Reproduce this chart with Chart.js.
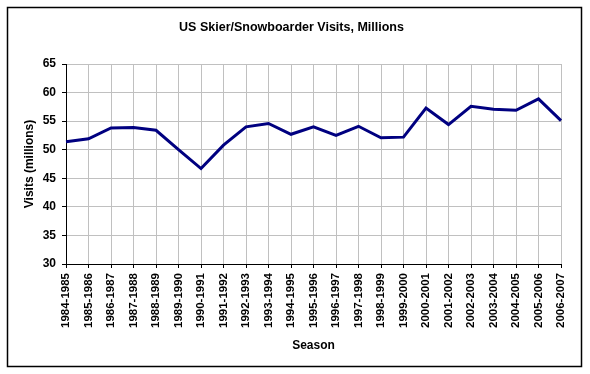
<!DOCTYPE html>
<html>
<head>
<meta charset="utf-8">
<script src="https://cdn.jsdelivr.net/npm/chart.js@4/dist/chart.umd.min.js"></script>
<style>
  html, body { margin: 0; padding: 0; background: #ffffff; }
  #wrap { width: 590px; height: 374px; position: relative; }
</style>
</head>
<body>
<div id="wrap"><canvas id="c" width="590" height="374"></canvas></div>
<script>
const chartTitle = "US Skier/Snowboarder Visits, Millions";
const xAxisTitle = "Season";
const yAxisTitle = "Visits (millions)";
const seasons = ["1984-1985","1985-1986","1986-1987","1987-1988","1988-1989","1989-1990","1990-1991","1991-1992","1992-1993","1993-1994","1994-1995","1995-1996","1996-1997","1997-1998","1998-1999","1999-2000","2000-2001","2001-2002","2002-2003","2003-2004","2004-2005","2005-2006","2006-2007"];
const visits = [51.4, 51.9, 53.8, 53.9, 53.4, 50.0, 46.7, 50.8, 54.0, 54.6, 52.7, 54.0, 52.5, 54.1, 52.1, 52.2, 57.3, 54.4, 57.6, 57.1, 56.9, 58.9, 55.1];
const yMin = 30, yMax = 65, yStep = 5;

Chart.defaults.font.family = "'Liberation Sans', Arial, sans-serif";
Chart.defaults.color = "#000000";

const framePlugin = {
  id: 'frame',
  afterDraw(chart) {
    const ctx = chart.ctx;
    ctx.save();
    ctx.strokeStyle = '#000000';
    ctx.lineWidth = 1.5;
    ctx.strokeRect(7.5, 7.5, 574, 359);
    ctx.restore();
  }
};

new Chart(document.getElementById('c'), {
  type: 'line',
  data: {
    labels: seasons,
    datasets: [{
      data: visits,
      borderColor: '#000080',
      borderWidth: 3,
      pointRadius: 0,
      pointHoverRadius: 0,
      tension: 0,
      fill: false
    }]
  },
  options: {
    responsive: false,
    animation: false,
    events: [],
    layout: { padding: { left: 22, right: 29, top: 0, bottom: 21 } },
    plugins: {
      legend: { display: false },
      tooltip: { enabled: false },
      title: {
        display: true,
        text: chartTitle,
        color: '#000000',
        font: { size: 12.5, weight: 'bold' },
        padding: { top: 20, bottom: 29 }
      }
    },
    scales: {
      x: {
        offset: false,
        afterFit(scale) { scale.height = 89; },
        border: { display: true, color: '#000000', width: 1 },
        grid: {
          display: true,
          color: '#c0c0c0',
          borderDash: [3, 3],
          lineWidth: 1,
          drawTicks: true,
          tickLength: 4,
          tickColor: '#000000',
          tickBorderDash: [],
          tickWidth: 1
        },
        ticks: {
          autoSkip: false,
          minRotation: 90,
          maxRotation: 90,
          padding: 5,
          color: '#000000',
          font: { size: 11.5, weight: 'bold' }
        },
        title: {
          display: true,
          text: xAxisTitle,
          color: '#000000',
          font: { size: 12, weight: 'bold' },
          padding: { top: 0, bottom: 0 }
        }
      },
      y: {
        min: yMin,
        max: yMax,
        afterFit(scale) { scale.width = 44; },
        border: { display: true, color: '#000000', width: 1 },
        grid: {
          display: true,
          color: '#c0c0c0',
          borderDash: [3, 3],
          lineWidth: 1,
          drawTicks: true,
          tickLength: 4,
          tickColor: '#000000',
          tickBorderDash: [],
          tickWidth: 1
        },
        ticks: {
          stepSize: yStep,
          padding: 6,
          color: '#000000',
          font: { size: 12, weight: 'bold' }
        },
        title: {
          display: true,
          text: yAxisTitle,
          color: '#000000',
          font: { size: 12, weight: 'bold' },
          padding: { top: 0, bottom: 0 }
        }
      }
    }
  },
  plugins: [framePlugin]
});
</script>
</body>
</html>
